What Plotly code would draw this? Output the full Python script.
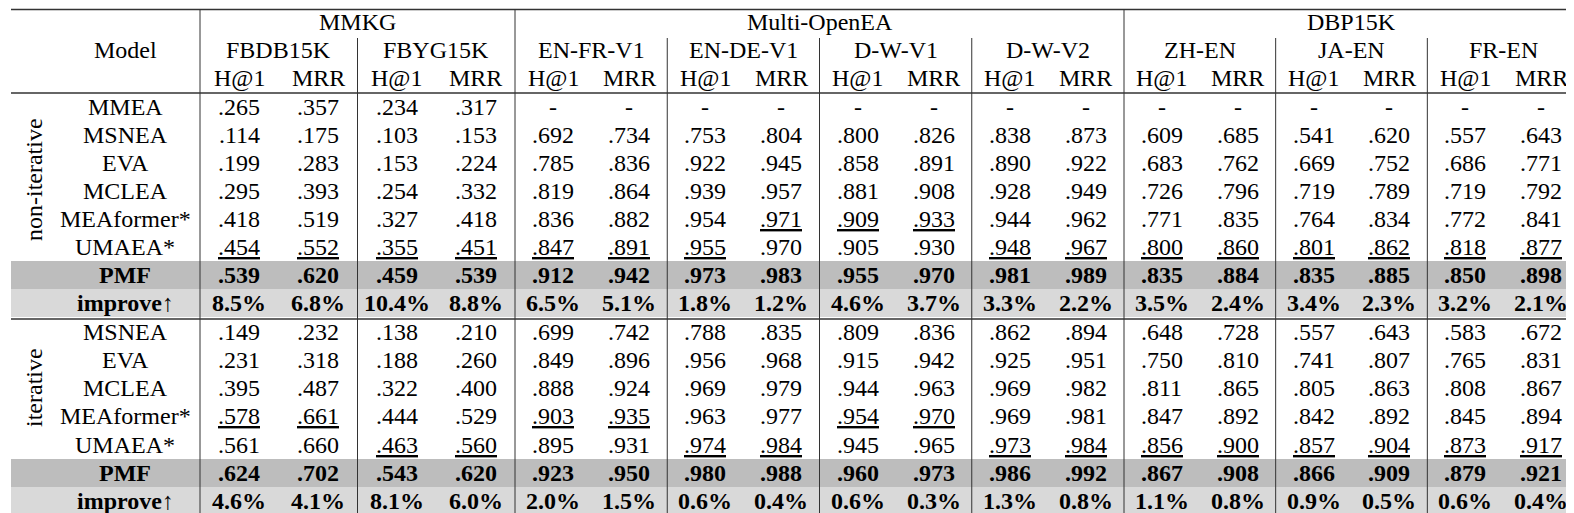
import plotly.graph_objects as go

groups = ["MMKG", "Multi-OpenEA", "DBP15K"]
datasets = ["FBDB15K", "FBYG15K", "EN-FR-V1", "EN-DE-V1", "D-W-V1", "D-W-V2", "ZH-EN", "JA-EN", "FR-EN"]
metrics = ["H@1", "MRR"]

models_noniter = ["MMEA", "MSNEA", "EVA", "MCLEA", "MEAformer*", "UMAEA*", "PMF", "improve↑"]
models_iter = ["MSNEA", "EVA", "MCLEA", "MEAformer*", "UMAEA*", "PMF", "improve↑"]

mmea_n = ".265 .357 .234 .317 - - - - - - - - - - - - - -".split()
msnea_n = ".114 .175 .103 .153 .692 .734 .753 .804 .800 .826 .838 .873 .609 .685 .541 .620 .557 .643".split()
eva_n = ".199 .283 .153 .224 .785 .836 .922 .945 .858 .891 .890 .922 .683 .762 .669 .752 .686 .771".split()
mclea_n = ".295 .393 .254 .332 .819 .864 .939 .957 .881 .908 .928 .949 .726 .796 .719 .789 .719 .792".split()
meaformer_n = ".418 .519 .327 .418 .836 .882 .954 .971 .909 .933 .944 .962 .771 .835 .764 .834 .772 .841".split()
umaea_n = ".454 .552 .355 .451 .847 .891 .955 .970 .905 .930 .948 .967 .800 .860 .801 .862 .818 .877".split()
pmf_n = ".539 .620 .459 .539 .912 .942 .973 .983 .955 .970 .981 .989 .835 .884 .835 .885 .850 .898".split()
improve_n = "8.5% 6.8% 10.4% 8.8% 6.5% 5.1% 1.8% 1.2% 4.6% 3.7% 3.3% 2.2% 3.5% 2.4% 3.4% 2.3% 3.2% 2.1%".split()

msnea_i = ".149 .232 .138 .210 .699 .742 .788 .835 .809 .836 .862 .894 .648 .728 .557 .643 .583 .672".split()
eva_i = ".231 .318 .188 .260 .849 .896 .956 .968 .915 .942 .925 .951 .750 .810 .741 .807 .765 .831".split()
mclea_i = ".395 .487 .322 .400 .888 .924 .969 .979 .944 .963 .969 .982 .811 .865 .805 .863 .808 .867".split()
meaformer_i = ".578 .661 .444 .529 .903 .935 .963 .977 .954 .970 .969 .981 .847 .892 .842 .892 .845 .894".split()
umaea_i = ".561 .660 .463 .560 .895 .931 .974 .984 .945 .965 .973 .984 .856 .900 .857 .904 .873 .917".split()
pmf_i = ".624 .702 .543 .620 .923 .950 .980 .988 .960 .973 .986 .992 .867 .908 .866 .909 .879 .921".split()
improve_i = "4.6% 4.1% 8.1% 6.0% 2.0% 1.5% 0.6% 0.4% 0.6% 0.3% 1.3% 0.8% 1.1% 0.8% 0.9% 0.5% 0.6% 0.4%".split()

# underlined (second-best) column indices per row
ul_meaformer_n = [7, 8, 9]
ul_umaea_n = [0, 1, 2, 3, 4, 5, 6, 10, 11, 12, 13, 14, 15, 16, 17]
ul_meaformer_i = [0, 1, 4, 5, 8, 9]
ul_umaea_i = [2, 3, 6, 7, 10, 11, 12, 13, 14, 15, 16, 17]

rows = [
    (models_noniter[0], mmea_n, []), (models_noniter[1], msnea_n, []), (models_noniter[2], eva_n, []),
    (models_noniter[3], mclea_n, []), (models_noniter[4], meaformer_n, ul_meaformer_n),
    (models_noniter[5], umaea_n, ul_umaea_n), (models_noniter[6], pmf_n, "bold"), (models_noniter[7], improve_n, "bold"),
    (models_iter[0], msnea_i, []), (models_iter[1], eva_i, []), (models_iter[2], mclea_i, []),
    (models_iter[3], meaformer_i, ul_meaformer_i), (models_iter[4], umaea_i, ul_umaea_i),
    (models_iter[5], pmf_i, "bold"), (models_iter[6], improve_i, "bold"),
]

W, H = 1574, 513
FONT = "Liberation Serif"
FS = 24
row_y = [99, 127, 155, 183, 211, 239, 267, 295, 324, 352, 380, 408, 437, 465, 493]
group_x = [(192, 507), (507, 1116), (1116, 1571)]
nsub = [4, 8, 6]
col_x = []
for (a, b), n in zip(group_x, nsub):
    w = (b - a) / n
    col_x += [a + w * (k + 0.5) for k in range(n)]

ann = []
def t(x, y, s, **kw):
    ann.append(dict(x=x, y=y, text=s, xref="x", yref="y", showarrow=False,
                    font=dict(family=FONT, size=FS, color="black"), **kw))

shapes = []
def band(y0, y1, c):
    shapes.append(dict(type="rect", x0=3, x1=1571, y0=y0, y1=y1, xref="x", yref="y",
                       fillcolor=c, line=dict(width=0), layer="below"))
band(253, 281, "#bdbdbd"); band(281, 309, "#d9d9d9")
band(451, 479, "#bdbdbd"); band(479, 507, "#d9d9d9")

def hl(y, w=1.3):
    shapes.append(dict(type="line", x0=3, x1=1571, y0=y, y1=y, xref="x", yref="y", line=dict(color="#333", width=w)))
def vl(x, y0, y1):
    shapes.append(dict(type="line", x0=x, x1=x, y0=y0, y1=y1, xref="x", yref="y", line=dict(color="#333", width=1)))
hl(1.5); hl(85); hl(311); hl(507)
vl(192, 1, 507); vl(507, 1, 507); vl(1116, 1, 507)
for i in range(1, len(datasets)):
    x = col_x[2 * i] - (col_x[2 * i] - col_x[2 * i - 1]) / 2
    if abs(x - 507) > 2 and abs(x - 1116) > 2:
        vl(x, 30, 507)

# headers
for g, (a, b) in zip(groups, group_x):
    t((a + b) / 2, 14, g)
t(117, 42, "Model")
for i, d in enumerate(datasets):
    t((col_x[2 * i] + col_x[2 * i + 1]) / 2, 42, d)
    for j, m in enumerate(metrics):
        t(col_x[2 * i + j], 70, m)

for r, (name, vals, style) in enumerate(rows):
    y = row_y[r]
    bold = style == "bold"
    t(117, y, f"<b>{name}</b>" if bold else name)
    for c, v in enumerate(vals):
        s = v
        if bold:
            s = f"<b>{s}</b>"
        elif c in style:
            s = f"<u>{s}</u>"
        t(col_x[c], y, s)

t(26, 172, "non-iterative", textangle=-90)
t(26, 380, "iterative", textangle=-90)

fig = go.Figure()
fig.update_layout(width=W, height=H, margin=dict(l=0, r=0, t=0, b=0),
                  paper_bgcolor="white", plot_bgcolor="white",
                  xaxis=dict(range=[0, W], visible=False, fixedrange=True),
                  yaxis=dict(range=[H, 0], visible=False, fixedrange=True),
                  annotations=ann, shapes=shapes, showlegend=False)
fig.write_html("out.html")
